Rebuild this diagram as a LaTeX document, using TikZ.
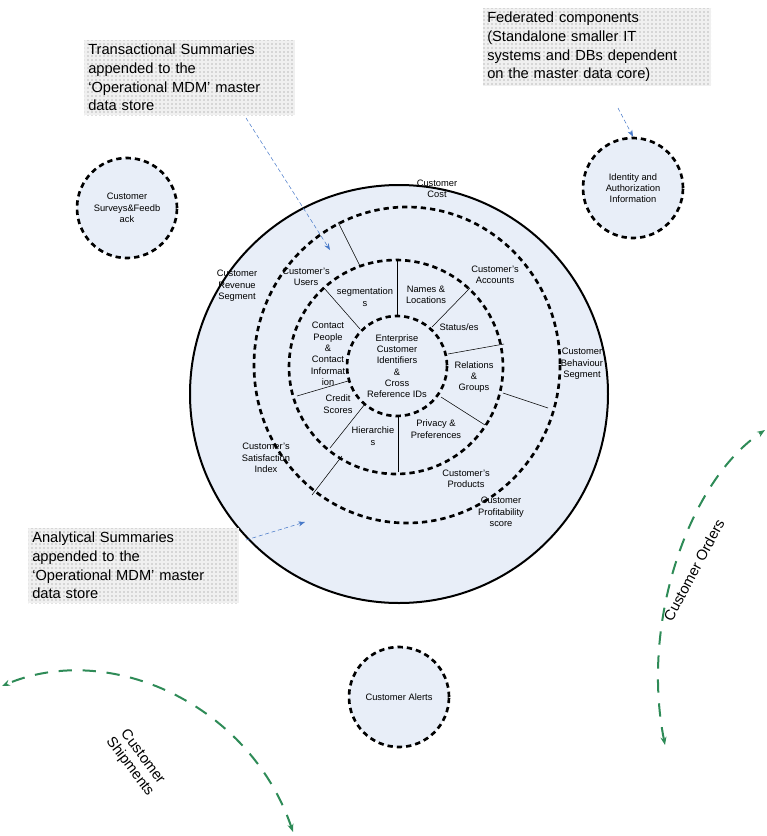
\documentclass[tikz,border=0pt]{standalone}
\usepackage{fontspec}
\setmainfont{Liberation Sans}
\usetikzlibrary{patterns,arrows.meta}
\definecolor{paleblue}{RGB}{232,238,248}
\tikzset{
  ring/.style={draw,dash pattern=on 4pt off 3pt,line width=2pt},
  spoke/.style={draw,thin},
  lbl/.style={font=\fontsize{7}{8.5}\selectfont,align=center,inner sep=0pt},
  note/.style={fill=gray!12,postaction={pattern=dots,pattern color=gray},font=\fontsize{11}{14}\selectfont,align=left,anchor=north west,inner sep=3pt,text width=#1},
  pointer/.style={-{Stealth[length=5pt]},draw={rgb,255:red,70;green,120;blue,200},dash pattern=on 3pt off 2pt,thin},
  flow/.style={{Stealth[length=6pt]}-{Stealth[length=6pt]},draw={rgb,255:red,46;green,139;blue,87},line width=1.5pt,dash pattern=on 10pt off 8pt}
}
\begin{document}
\begin{tikzpicture}[x=0.75pt,y=-0.75pt]
  \useasboundingbox (0,0) rectangle (767,836);
  % core rings
  \node[draw,line width=1.5pt,fill=paleblue,circle,minimum size=418pt*0.75] (outer) at (399,394) {};
  \draw[ring] (407,365) ellipse (153 and 158);
  \draw[ring] (396,367) circle (107);
  \draw[ring] (397,366) circle (50);
  % satellites
  \node[ring,fill=paleblue,circle,minimum size=75pt] (surveys) at (127,208) {};
  \node[ring,fill=paleblue,circle,minimum size=75pt] (ident) at (633,188) {};
  \node[ring,fill=paleblue,circle,minimum size=75pt] (alerts) at (399,697) {};
  \node[lbl] at (surveys) {Customer\\Surveys\&Feedb\\ack};
  \node[lbl] at (ident) {Identity and\\Authorization\\Information};
  \node[lbl] at (alerts) {Customer Alerts};
  % spokes
  \draw[spoke] (397,260) -- (397,315);
  \draw[spoke] (470,288) -- (432,327);
  \draw[spoke] (504,344) -- (448,354);
  \draw[spoke] (485,425) -- (441,397);
  \draw[spoke] (398,417) -- (398,472);
  \draw[spoke] (365,404) -- (330,448);
  \draw[spoke] (348,381) -- (297,396);
  \draw[spoke] (324,288) -- (360,329);
  \draw[spoke] (338,222) -- (360,266);
  \draw[spoke] (312,495) -- (342,456);
  \draw[spoke] (503,393) -- (548,408);
  % labels
  \node[lbl] at (397,366) {Enterprise\\Customer\\Identifiers\\\&\\Cross\\Reference IDs};
  \node[lbl] at (365,297) {segmentation\\s};
  \node[lbl] at (426,295) {Names \&\\Locations};
  \node[lbl] at (459,327) {Status/es};
  \node[lbl] at (474,377) {Relations\\\&\\Groups};
  \node[lbl] at (436,429) {Privacy \&\\Preferences};
  \node[lbl] at (373,436) {Hierarchie\\s};
  \node[lbl] at (338,404) {Credit\\Scores};
  \node[lbl] at (328,354) {Contact\\People\\\&\\Contact\\Informat\\ion};
  \node[lbl] at (306,277) {Customer's\\Users};
  \node[lbl] at (495,275) {Customer's\\Accounts};
  \node[lbl] at (582,364) {Customer\\Behaviour\\Segment};
  \node[lbl] at (466,479) {Customer's\\Products};
  \node[lbl] at (501,512) {Customer\\Profitability\\score};
  \node[lbl] at (266,458) {Customer's\\Satisfaction\\Index};
  \node[lbl] at (237,286) {Customer\\Revenue\\Segment};
  \node[lbl] at (437,189) {Customer\\Cost};
  % notes
  \node[note=152pt] (trans) at (84,40) {Transactional Summaries\\appended to the\\`Operational MDM' master\\data store};
  \node[note=165pt] (fed) at (483,8) {Federated components\\(Standalone smaller IT\\systems and DBs dependent\\on the master data core)};
  \node[note=152pt] (anal) at (28,528) {Analytical Summaries\\appended to the\\`Operational MDM' master\\data store};
  \coordinate (tStart) at (246,118); \coordinate (tEnd) at (330,250);
  \coordinate (fStart) at (618,108);
  \coordinate (aStart) at (246,540); \coordinate (aEnd) at (305,522);
  \draw[pointer] (tStart) -- (tEnd);
  \draw[pointer] (fStart) -- (ident.north);
  \draw[pointer] (aStart) -- (aEnd);
  % flows
  \coordinate (oA) at (765,430); \coordinate (oB) at (665,745);
  \coordinate (sA) at (2,686); \coordinate (sB) at (293,832);
  \draw[flow] (oB) .. controls (640,620) and (690,480) .. (oA);
  \draw[flow] (sB) .. controls (250,705) and (110,640) .. (sA);
  \node[font=\fontsize{11}{12}\selectfont,rotate=62] at (694,570) {Customer Orders};
  \node[font=\fontsize{11}{12}\selectfont,align=center,rotate=-53] at (136,762) {Customer\\Shipments};
\end{tikzpicture}
\end{document}
